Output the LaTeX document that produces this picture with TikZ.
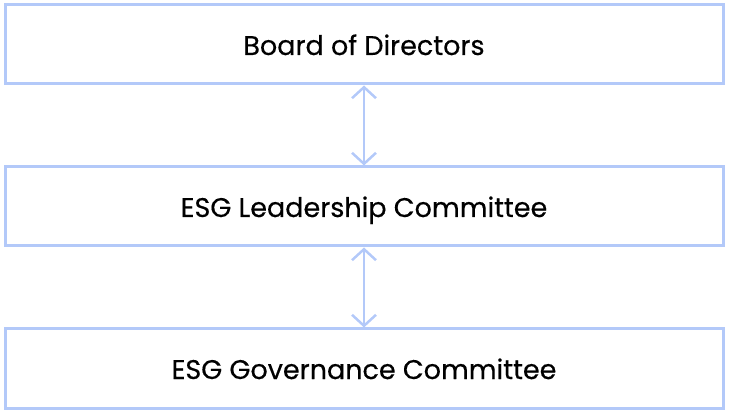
\documentclass[tikz,border=0pt]{standalone}
\usepackage{fontspec}
\setmainfont{Poppins}[FakeBold=0.4]
\usetikzlibrary{arrows.meta}
\definecolor{boxblue}{HTML}{B3C9F9}

\begin{document}
\begin{tikzpicture}[x=1pt,y=1pt,
    level/.style={draw=boxblue,line width=3pt,minimum width=718pt,minimum height=79pt,
      inner sep=0pt,text height=21pt,text depth=0pt,font=\fontsize{27}{32}\selectfont},
    link/.style={boxblue,line width=2.5pt,{Straight Barb[length=11pt,width=24pt]}-{Straight Barb[length=11pt,width=24pt]}}]
    \useasboundingbox (0,0) rectangle (729,-414);
    \node[level] (board) at (364,-44.5) {Board of Directors};
    \node[level] (leader) at (364,-206.5) {ESG Leadership Committee};
    \node[level] (govern) at (364,-368.5) {ESG Governance Committee};
    \draw[link] (board) -- (leader);
    \draw[link] (leader) -- (govern);
   \end{tikzpicture}
\end{document}
